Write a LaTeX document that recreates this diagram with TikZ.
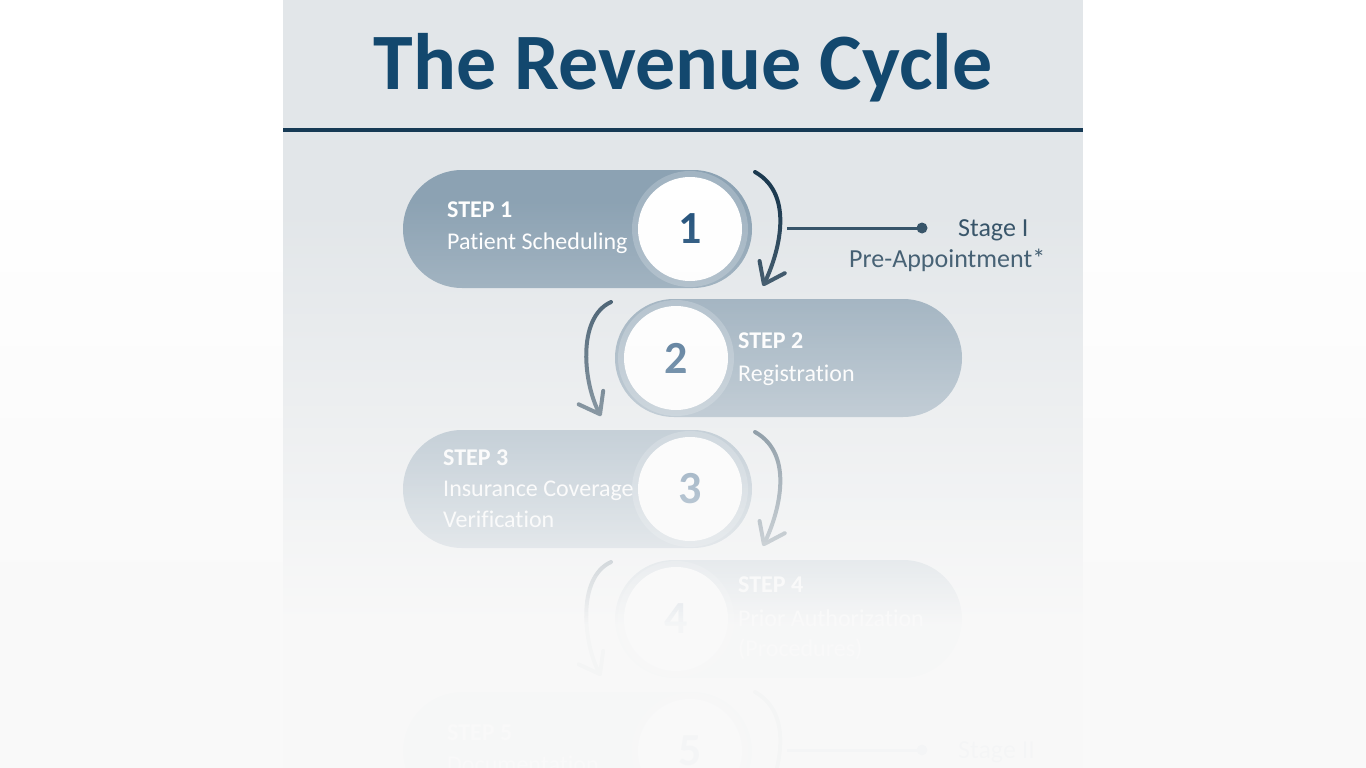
\documentclass[tikz,border=0pt]{standalone}
\usepackage{fontspec}
\setmainfont{Carlito}[Ligatures=NoCommon]
\usetikzlibrary{arrows.meta}
\definecolor{bandbg}{HTML}{E2E6E9}
\definecolor{titleblue}{HTML}{13486E}
\definecolor{rulenavy}{HTML}{163A55}
\definecolor{pillc}{HTML}{8CA2B3}
\definecolor{ringc}{HTML}{A2B4C2}
\definecolor{numc}{HTML}{21507A}
\definecolor{arrowc}{HTML}{1C3A50}
\definecolor{stagec}{HTML}{2B4A60}
\definecolor{veil}{HTML}{F9F9F9}
\tikzset{
  pill/.style={fill=pillc, rounded corners=58.9pt},
  ring/.style={fill=ringc},
  numcircle/.style={circle, fill=white, minimum size=104pt, inner sep=0pt, text=numc,
    font=\bfseries\fontsize{46}{46}\selectfont},
  steptitle/.style={anchor=base west, inner sep=0pt, text=white, font=\bfseries\fontsize{24}{30}\selectfont},
  steptext/.style={anchor=base west, inner sep=0pt, text=white, font=\fontsize{24}{30}\selectfont},
  flowarrow/.style={draw=arrowc, line width=4pt, line cap=round, -{Straight Barb[length=19pt,width=28pt,round]}},
  stageline/.style={draw=stagec, line width=3pt},
  stagedot/.style={circle, fill=stagec, minimum size=11pt, inner sep=0pt},
  stagetext/.style={anchor=base west, inner sep=0pt, text=stagec, font=\fontsize{26}{30}\selectfont}
}
\begin{document}
\begin{tikzpicture}[x=1pt,y=-1pt]
\clip (0,0) rectangle (1366,768);
\fill[white] (0,0) rectangle (1366,768);
\fill[bandbg] (283,0) rectangle (1083,768);
\node[anchor=base, inner sep=0pt, text=titleblue, font=\bfseries\fontsize{80}{90}\selectfont] (title) at (683,89) {The Revenue Cycle};
\draw[rulenavy, line width=4pt] (283,130) -- (1083,130);

% Step 1
\fill[pill] (403,170) rectangle (752,288);
\fill[ring] (690,229) circle[radius=58pt];
\node[numcircle] (n1) at (690,229) {1};
\node[steptitle] (s1a) at (447,217) {STEP 1};
\node[steptext] (s1b) at (447,249) {Patient Scheduling};

% Step 2
\fill[pill] (615,299) rectangle (962,417);
\fill[ring] (676,358) circle[radius=58pt];
\node[numcircle] (n2) at (676,358) {2};
\node[steptitle] (s2a) at (738,348) {STEP 2};
\node[steptext] (s2b) at (738,381) {Registration};

% Step 3
\fill[pill] (403,430) rectangle (752,548);
\fill[ring] (690,489) circle[radius=58pt];
\node[numcircle] (n3) at (690,489) {3};
\node[steptitle] (s3a) at (443,465) {STEP 3};
\node[steptext] (s3b) at (443,496) {Insurance Coverage};
\node[steptext] (s3c) at (443,527) {Verification};

% Step 4
\fill[pill] (615,560) rectangle (962,678);
\fill[ring] (676,619) circle[radius=58pt];
\node[numcircle] (n4) at (676,619) {4};
\node[steptitle] (s4a) at (738,592) {STEP 4};
\node[steptext] (s4b) at (738,626) {Prior Authorization};
\node[steptext] (s4c) at (738,656) {(Procedures)};

% Step 5
\fill[pill] (403,692) rectangle (752,810);
\fill[ring] (690,751) circle[radius=58pt];
\node[numcircle] (n5) at (690,751) {5};
\node[steptitle] (s5a) at (447,740) {STEP 5};
\node[steptext] (s5b) at (447,772) {Documentation};

% arrows
\coordinate (a1s) at (755,172); \coordinate (a1e) at (763,286);
\coordinate (a2s) at (611,302); \coordinate (a2e) at (601,416);
\coordinate (a3s) at (755,432); \coordinate (a3e) at (763,546);
\coordinate (a4s) at (611,562); \coordinate (a4e) at (601,676);
\coordinate (a5s) at (755,692); \coordinate (a5e) at (763,806);
\draw[flowarrow] (a1s) .. controls (796,195) and (778,255) .. (a1e);
\draw[flowarrow] (a2s) .. controls (576,318) and (584,385) .. (a2e);
\draw[flowarrow] (a3s) .. controls (796,455) and (778,515) .. (a3e);
\draw[flowarrow] (a4s) .. controls (576,578) and (584,645) .. (a4e);
\draw[flowarrow] (a5s) .. controls (796,715) and (778,775) .. (a5e);

% stages
\coordinate (c1) at (787,228);
\node[stagedot] (d1) at (922,228) {};
\draw[stageline] (c1) -- (d1.center);
\node[stagetext] (st1a) at (958,236) {Stage I};
\node[stagetext] (st1b) at (849,267) {Pre-Appointment*};

\coordinate (c2) at (787,750);
\node[stagedot] (d2) at (922,750) {};
\draw[stageline] (c2) -- (d2.center);
\node[stagetext] (st2a) at (958,758) {Stage II};

% fading veil, built from thin strips
\foreach \yy in {190,192,...,766}{
  \pgfmathsetmacro\op{min(0.98, max(0, (\yy+1-200)*0.0023))}
  \fill[veil, fill opacity=\op] (0,\yy) rectangle (1366,{\yy+2});
}
\end{tikzpicture}
\end{document}
